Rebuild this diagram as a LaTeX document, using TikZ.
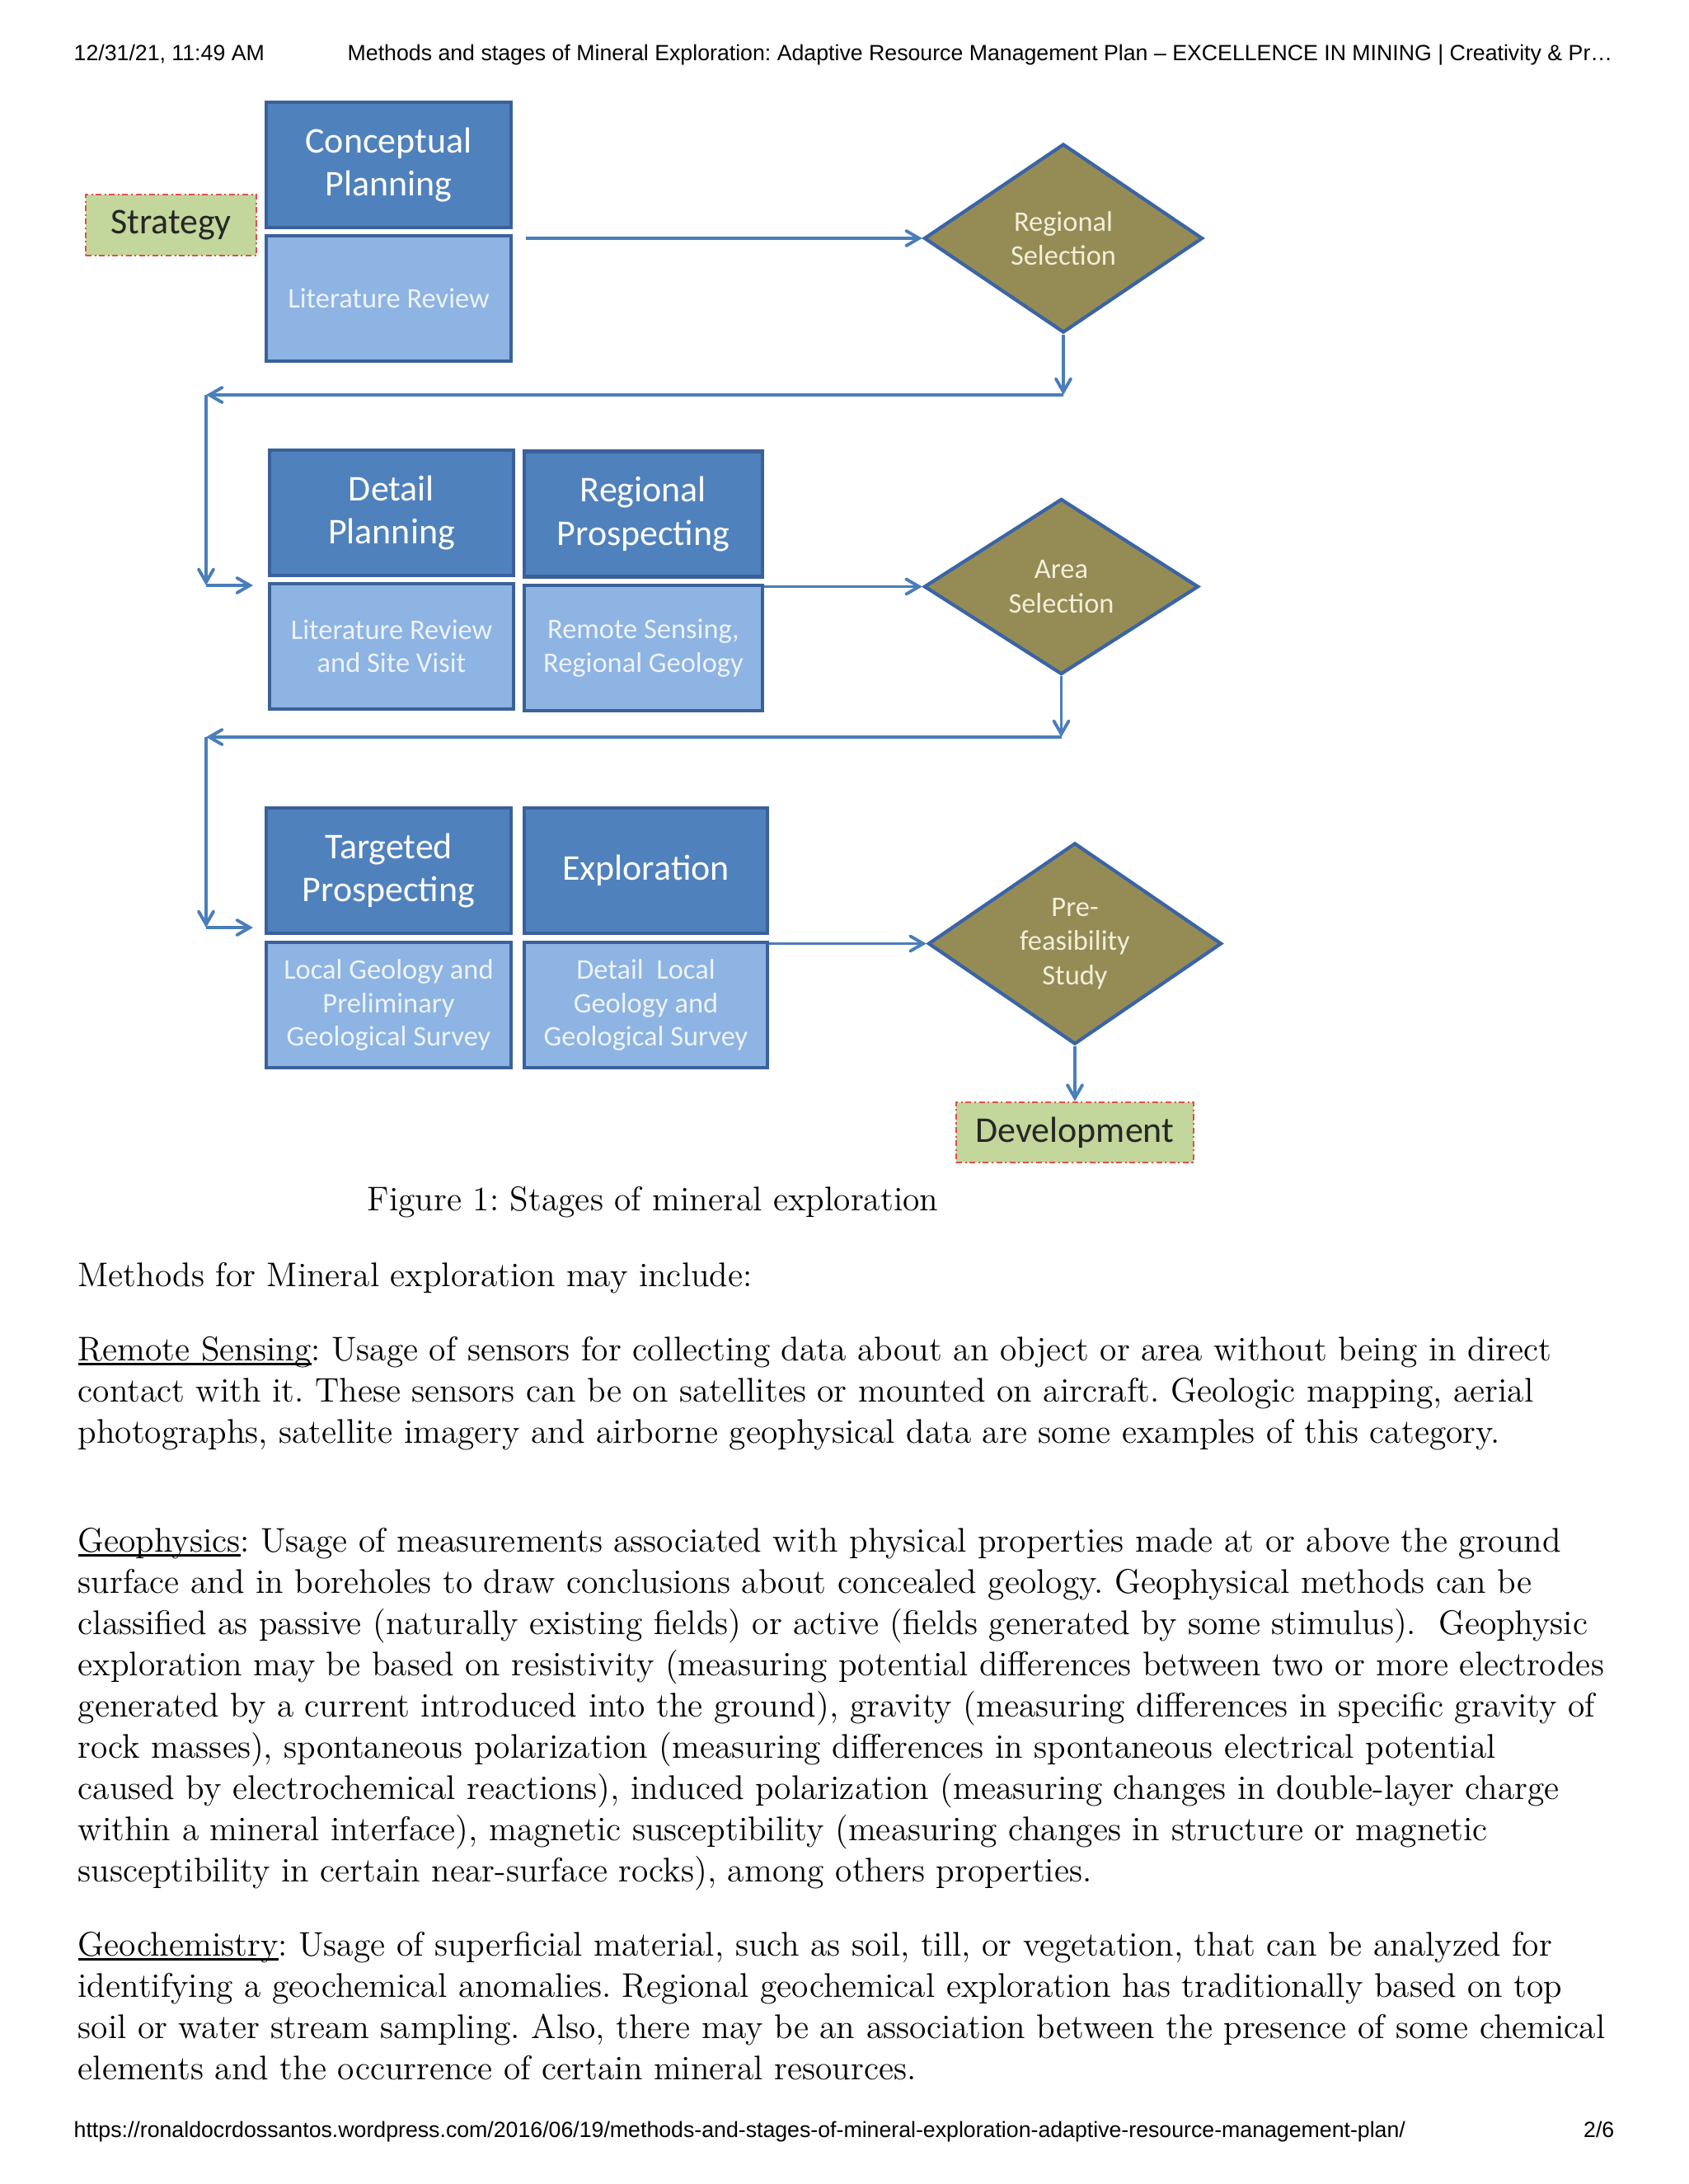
\documentclass[tikz,border=0pt]{standalone}
\usepackage{fontspec}
\newfontfamily\carlito{Carlito}
\newfontfamily\arialfont{Liberation Sans}
\usetikzlibrary{arrows}
\usetikzlibrary{shapes.geometric}
\usetikzlibrary{calc}
\frenchspacing
\newcommand\ulword[1]{\setbox0\hbox{#1}\rlap{\rule[-1.6pt]{\wd0}{0.8pt}}\box0}

\definecolor{stageblue}{HTML}{4F81BD}
\definecolor{taskblue}{HTML}{8DB4E2}
\definecolor{boxedge}{HTML}{3A619A}
\definecolor{olivefill}{HTML}{958B55}
\definecolor{diamondedge}{HTML}{3B64A4}
\definecolor{creamtext}{HTML}{F2EFD9}
\definecolor{paletext}{HTML}{EEF3FB}
\definecolor{milefill}{HTML}{C3D69B}
\definecolor{mileedge}{HTML}{E0504A}
\definecolor{flowblue}{HTML}{4A7EBB}

\tikzset{
  stagebox/.style={rectangle, draw=boxedge, fill=stageblue, line width=1.2pt,
    minimum height=1.52cm, inner sep=0pt, align=center, text=white,
    font=\carlito\fontsize{12.5}{15}\selectfont},
  taskbox/.style={rectangle, draw=boxedge, fill=taskblue, line width=1.2pt,
    minimum height=1.52cm, inner sep=0pt, align=center, text=paletext,
    font=\carlito\fontsize{9.8}{11.5}\selectfont},
  decision/.style={diamond, draw=diamondedge, fill=olivefill, line width=1.2pt,
    inner sep=0pt, align=center, text=creamtext,
    font=\carlito\fontsize{9.8}{11.8}\selectfont},
  milestone/.style={rectangle, draw=mileedge, fill=milefill, line width=0.8pt,
    dash pattern=on 2pt off 1pt on 0.6pt off 1pt, inner sep=0pt,
    text=black!85, font=\carlito\fontsize{12.5}{15}\selectfont},
  flow/.style={draw=flowblue, line width=1.1pt, -angle 60},
  pagehead/.style={anchor=base west, inner sep=0pt,
    font=\arialfont\fontsize{7.6}{9}\selectfont},
  bodyline/.style={anchor=base west, inner sep=0pt,
    font=\fontsize{11.8}{14}\selectfont},
}

\begin{document}
\begin{tikzpicture}
\useasboundingbox (0,0) rectangle (20.48,-26.49);
\fill[white] (0,0) rectangle (20.48,-26.49);

% page header
\node[pagehead] (date) at (0.89,-0.73) {12/31/21, 11:49 AM};
\node[pagehead] (title) at (4.21,-0.73) {Methods and stages of Mineral
  Exploration: Adaptive Resource Management Plan – EXCELLENCE IN MINING |
  Creativity \& Pr…};

% first stage
\node[stagebox, minimum width=2.97cm] (concept) at (4.715,-2.00)
      {Conceptual\\Planning};
\node[taskbox, minimum width=2.97cm] (litreview) at (4.715,-3.62)
      {Literature Review};
\node[milestone, minimum width=2.07cm, minimum height=0.74cm] (strategy)
      at (2.075,-2.73) {\raisebox{-1.5pt}{Strategy}};
\node[decision, minimum width=3.38cm, minimum height=2.29cm] (regsel)
      at (12.90,-2.89) {Regional\\Selection};

% second stage
\node[stagebox, minimum width=2.96cm] (detplan) at (4.75,-6.22)
      {Detail\\Planning};
\node[stagebox, minimum width=2.89cm] (regprosp) at (7.805,-6.235)
      {Regional\\Prospecting};
\node[taskbox, minimum width=2.96cm] (litsite) at (4.75,-7.84)
      {Literature Review\\and Site Visit};
\node[taskbox, minimum width=2.89cm] (remotesens) at (7.805,-7.86)
      {Remote Sensing,\\Regional Geology};
\node[decision, minimum width=3.33cm, minimum height=2.13cm] (areasel)
      at (12.875,-7.115) {Area\\Selection};

% third stage
\node[stagebox, minimum width=2.97cm] (targeted) at (4.715,-10.56)
      {Targeted\\Prospecting};
\node[stagebox, minimum width=2.95cm] (explor) at (7.835,-10.56)
      {Exploration};
\node[taskbox, minimum width=2.97cm] (localgeo) at (4.715,-12.19)
      {Local Geology and\\Preliminary\\Geological Survey};
\node[taskbox, minimum width=2.95cm] (detlocal) at (7.835,-12.19)
      {Detail\ \ Local\\Geology and\\Geological Survey};
\node[decision, minimum width=3.56cm, minimum height=2.27cm] (prefeas)
      at (13.04,-11.445) {Pre-\\feasibility\\Study};
\node[milestone, minimum width=2.88cm, minimum height=0.73cm] (develop)
      at (13.04,-13.735) {Development};

% turning points of the return lines
\coordinate (bend1) at (12.90,-4.79);
\coordinate (back1) at (2.50,-4.79);
\coordinate (drop1) at (2.50,-7.10);
\coordinate (in1)   at (3.07,-7.10);
\coordinate (bend2) at (12.875,-8.94);
\coordinate (back2) at (2.50,-8.94);
\coordinate (drop2) at (2.50,-11.25);
\coordinate (in2)   at (3.07,-11.25);

% connectors
\draw[flow] ([xshift=1.6mm]litreview.east |- regsel.west) -- (regsel.west);
\draw[flow] (regsel.south) -- (bend1);
\draw[flow] (bend1) -- (back1);
\draw[flow] (back1) -- (drop1);
\draw[flow] (drop1) -- (in1);
\draw[flow] (remotesens.east |- areasel.west) -- (areasel.west);
\draw[flow] (areasel.south) -- (bend2);
\draw[flow] (bend2) -- (back2);
\draw[flow] (back2) -- (drop2);
\draw[flow] (drop2) -- (in2);
\draw[flow] (detlocal.east |- prefeas.west) -- (prefeas.west);
\draw[flow] (prefeas.south) -- (develop.north);

% caption and text
\node[bodyline, anchor=base] (caption) at (7.92,-14.68)
      {Figure 1: Stages of mineral exploration};
\node[bodyline] (intro) at (0.94,-15.60)
      {Methods for Mineral exploration may include:};

\node[bodyline] (rs1) at (0.94,-16.50) {\ulword{Remote Sensing}: Usage of
  sensors for collecting data about an object or area without being in direct};
\node[bodyline] (rs2) at (0.94,-17.00) {contact with it. These sensors can be
  on satellites or mounted on aircraft. Geologic mapping, aerial};
\node[bodyline] (rs3) at (0.94,-17.50) {photographs, satellite imagery and
  airborne geophysical data are some examples of this category.};

\node[bodyline] (gp1) at (0.94,-18.82) {\ulword{Geophysics}: Usage of
  measurements associated with physical properties made at or above the ground};
\node[bodyline] (gp2) at (0.94,-19.32) {surface and in boreholes to draw
  conclusions about concealed geology. Geophysical methods can be};
\node[bodyline] (gp3) at (0.94,-19.82) {classified as passive (naturally
  existing fields) or active (fields generated by some stimulus).\ \ Geophysic};
\node[bodyline] (gp4) at (0.94,-20.32) {exploration may be based on
  resistivity (measuring potential differences between two or more electrodes};
\node[bodyline] (gp5) at (0.94,-20.82) {generated by a current introduced into
  the ground), gravity (measuring differences in specific gravity of};
\node[bodyline] (gp6) at (0.94,-21.32) {rock masses), spontaneous polarization
  (measuring differences in spontaneous electrical potential};
\node[bodyline] (gp7) at (0.94,-21.82) {caused by electrochemical reactions),
  induced polarization (measuring changes in double-layer charge};
\node[bodyline] (gp8) at (0.94,-22.32) {within a mineral interface), magnetic
  susceptibility (measuring changes in structure or magnetic};
\node[bodyline] (gp9) at (0.94,-22.82) {susceptibility in certain near-surface
  rocks), among others properties.};

\node[bodyline] (gc1) at (0.94,-23.72) {\ulword{Geochemistry}: Usage of
  superficial material, such as soil, till, or vegetation, that can be analyzed for};
\node[bodyline] (gc2) at (0.94,-24.22) {identifying a geochemical anomalies.
  Regional geochemical exploration has traditionally based on top};
\node[bodyline] (gc3) at (0.94,-24.72) {soil or water stream sampling. Also,
  there may be an association between the presence of some chemical};
\node[bodyline] (gc4) at (0.94,-25.22) {elements and the occurrence of certain
  mineral resources.};

% page footer
\node[pagehead] (url) at (0.89,-25.92) {https://ronaldocrdossantos.wordpress.com/2016/06/19/methods-and-stages-of-mineral-exploration-adaptive-resource-management-plan/};
\node[pagehead, anchor=base east] (pageno) at (19.59,-25.92) {2/6};
\end{tikzpicture}
\end{document}
